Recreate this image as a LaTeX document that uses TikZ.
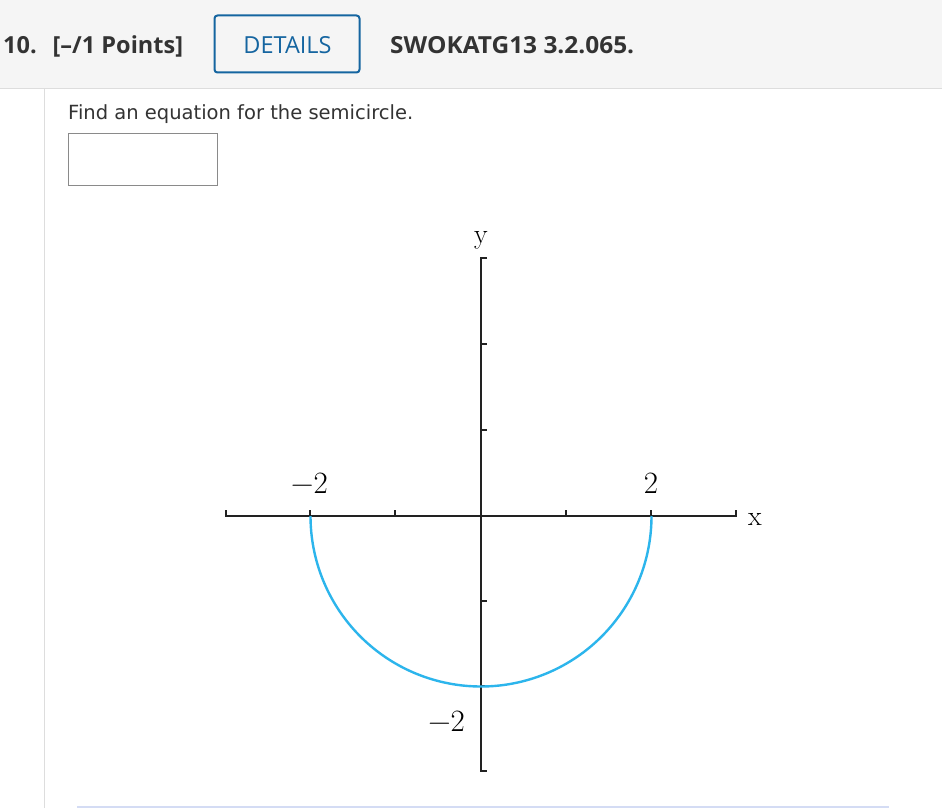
\documentclass[tikz,border=0pt]{standalone}
\usepackage{fontspec}
\newfontfamily\osans{Open Sans}
\newfontfamily\dsans{DejaVu Sans}
\definecolor{hdrbg}{HTML}{F5F5F5}
\definecolor{hdrline}{HTML}{DDDDDD}
\definecolor{detblue}{HTML}{1565A0}
\definecolor{txtdark}{HTML}{333333}
\definecolor{boxgray}{HTML}{8A8A8A}
\definecolor{curvecol}{HTML}{2CB5EC}
\definecolor{axiscol}{HTML}{222222}
\definecolor{lavline}{HTML}{D4DCF4}
\tikzset{
  hdrtext/.style={inner sep=0pt, text=txtdark, font=\osans\bfseries\fontsize{23.5}{28}\selectfont},
  axisline/.style={draw=axiscol, line width=1.4pt},
  ticklabel/.style={inner sep=0pt, text=black, font=\fontsize{31}{36}\selectfont},
  axlabel/.style={inner sep=0pt, text=black, font=\fontsize{28}{32}\selectfont},
}
\begin{document}
\begin{tikzpicture}[x=1pt,y=-1pt]
\useasboundingbox (0,0) rectangle (942,808);
\fill[white] (0,0) rectangle (942,808);
% header
\fill[hdrbg] (0,0) rectangle (942,88);
\draw[hdrline, line width=1pt] (0,88.5) -- (942,88.5);
\draw[hdrline, line width=1.2pt] (44.5,89) -- (44.5,808);
\node[hdrtext, anchor=base west] (num) at (3,53) {10.\hspace{16pt}[–/1 Points]};
\node[draw=detblue, line width=2pt, rounded corners=3pt, minimum width=145pt, minimum height=57pt, inner sep=0pt] (det) at (287,44) {};
\node[inner sep=0pt, anchor=base, text=detblue, font=\osans\fontsize{23.5}{28}\selectfont] (dettxt) at (287.5,53) {DETAILS};
\node[hdrtext, anchor=base west] (code) at (390,53) {\scalebox{1.04}[1]{SWOKATG13 3.2.065.}};
% question
\node[inner sep=0pt, anchor=base west, text=txtdark] (q) at (68,120) {\resizebox{345pt}{!}{\dsans\fontsize{20}{24}\selectfont Find an equation for the semicircle.}};
\node[draw=boxgray, line width=1.2pt, minimum width=149pt, minimum height=52pt, inner sep=0pt, anchor=north west] (ans) at (67.5,132.5) {};
% axes
\draw[axisline] (226,510) -- (226,516) -- (736,516) -- (736,510);
\foreach \t in {310,395,566,651} \draw[axisline] (\t,516) -- (\t,510);
\draw[axisline] (487,258) -- (481,258) -- (481,771) -- (487,771);
\foreach \t in {344,430,601,686} \draw[axisline] (481,\t) -- (487,\t);
% semicircle
\draw[curvecol, line width=2.4pt, domain=0:180, samples=120, smooth] plot ({481+170.5*cos(\x)},{516+170.5*sin(\x)});
% labels
\node[ticklabel, anchor=base] (lm2) at (309.5,493) {−2};
\node[ticklabel, anchor=base] (lp2) at (651,493) {2};
\node[ticklabel, anchor=base east] (ly2) at (465,731) {−2};
\node[axlabel, anchor=base] (ylab) at (481,243) {y};
\node[axlabel, anchor=base west] (xlab) at (748,525) {x};
% bottom
\draw[lavline, line width=1.5pt] (77,807) -- (888,807);
\draw[lavline, line width=1pt] (77,806) -- (77,812);
\draw[lavline, line width=1pt] (888,806) -- (888,812);
\end{tikzpicture}
\end{document}
